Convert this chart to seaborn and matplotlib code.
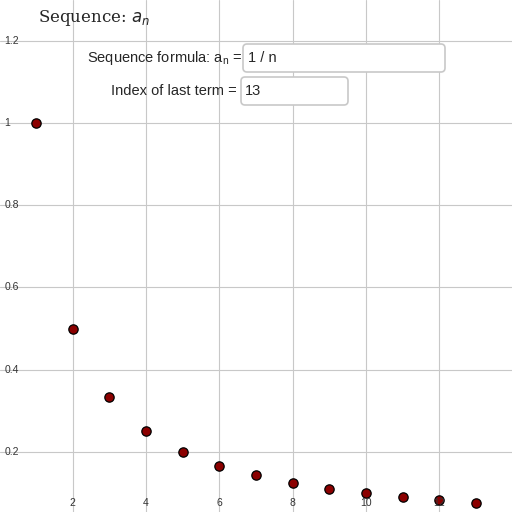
import numpy as np
import pandas as pd
import seaborn as sns
import matplotlib.pyplot as plt
from matplotlib.patches import FancyBboxPatch

# sequence a_n = 1/n, n = 1..13
n_values = list(range(1, 14))
a_values = [1.0, 0.5, 0.3333, 0.25, 0.2, 0.1667, 0.1429, 0.125, 0.1111, 0.1, 0.0909, 0.0833, 0.0769]
x_ticks = [2, 4, 6, 8, 10, 12]
y_ticks = [0.2, 0.4, 0.6, 0.8, 1.0, 1.2]
y_tick_labels = ['0.2', '0.4', '0.6', '0.8', '1', '1.2']

df = pd.DataFrame({'n': n_values, 'a': a_values})

sns.set_style('white')
plt.rcParams['font.family'] = ['Liberation Sans', 'DejaVu Sans']
fig = plt.figure(figsize=(5.12, 5.12), dpi=100)
ax = fig.add_axes([0, 0, 1, 1])

xmin, xmax = 0.018, 13.98
ymin, ymax = 0.054, 1.299
ax.set_xlim(xmin, xmax)
ax.set_ylim(ymin, ymax)

for x in x_ticks:
    ax.axvline(x, color='#c8c8c8', lw=0.8, zorder=0)
for y in y_ticks:
    ax.axhline(y, color='#c8c8c8', lw=0.8, zorder=0)

sns.scatterplot(data=df, x='n', y='a', ax=ax, color='#8b0000', edgecolor='black',
                linewidth=0.9, s=45, zorder=3, legend=False)

for x in x_ticks:
    ax.text(x, ymin + 0.01, str(x), ha='center', va='bottom', fontsize=7.5, color='#333333')
for y, lab in zip(y_ticks, y_tick_labels):
    ax.text(xmin + 0.12, y, lab, ha='left', va='center', fontsize=7.5, color='#333333')

for s in ax.spines.values():
    s.set_visible(False)
ax.set_xticks([])
ax.set_yticks([])
ax.set_xlabel('')
ax.set_ylabel('')

fig.text(0.075, 0.965, r'Sequence: $a_n$', fontsize=12, family='DejaVu Serif', va='center')

# input boxes (figure fraction coords)
for (x0, x1, yc) in [(243, 445, 58), (241, 348, 91)]:
    fig.patches.append(FancyBboxPatch((x0 / 512, 1 - (yc + 14) / 512), (x1 - x0) / 512, 28 / 512,
                                      boxstyle='round,pad=0,rounding_size=0.008',
                                      transform=fig.transFigure, fc='white', ec='#c8c8c8', lw=1.2))
fig.text(243 / 512, 1 - 58 / 512, 'Sequence formula: a$_\\mathregular{n}$ = ', fontsize=10.5,
         ha='right', va='center')
fig.text(248 / 512, 1 - 58 / 512, '1 / n', fontsize=10.5, ha='left', va='center')
fig.text(241 / 512, 1 - 91 / 512, 'Index of last term = ', fontsize=10.5, ha='right', va='center')
fig.text(245 / 512, 1 - 91 / 512, '13', fontsize=10.5, ha='left', va='center')

fig.savefig('out.png', dpi=100)
